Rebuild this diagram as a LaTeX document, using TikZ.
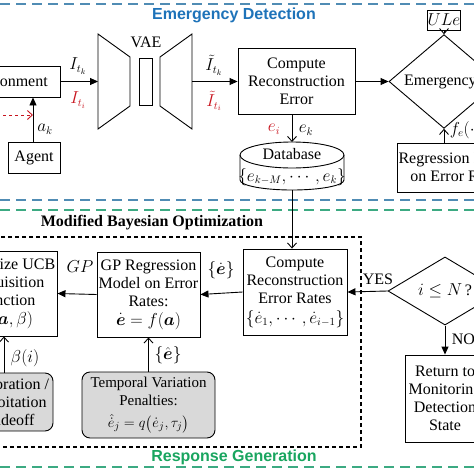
\documentclass[tikz,border=0pt]{standalone}
\usepackage{amsmath}
\usepackage{fontspec}
\setmainfont{Liberation Serif}
\newfontfamily\headfont{Liberation Sans}
\usetikzlibrary{shapes.geometric,arrows.meta}
\definecolor{hblue}{RGB}{30,115,185}
\definecolor{lblue}{RGB}{80,140,180}
\definecolor{hgreen}{RGB}{25,165,95}
\definecolor{lgreen}{RGB}{60,170,130}
\definecolor{dred}{RGB}{200,20,30}
\definecolor{boxgray}{RGB}{217,217,217}
\begin{document}
\begin{tikzpicture}[x=1pt,y=-1pt,
  font=\fontsize{16}{18}\selectfont,
  line width=0.9pt,
  box/.style={draw, align=center, inner sep=0pt},
  gbox/.style={draw, fill=boxgray, rounded corners=8pt, align=center, inner sep=0pt},
  dia/.style={draw, diamond, inner sep=0pt, align=center},
  farrow/.style={-{Triangle[length=8pt,width=7pt]}},
  varrow/.style={-{Straight Barb[length=5pt,width=9pt]}},
  bluedash/.style={draw=lblue, line width=1.2pt, dash pattern=on 10pt off 6pt},
  greendash/.style={draw=lgreen, line width=1.2pt, dash pattern=on 10pt off 6pt},
  head/.style={font=\headfont\bfseries\fontsize{16}{18}\selectfont}
]
\useasboundingbox (0,0) rectangle (474,474);
\clip (0,0) rectangle (474,474);

% section separators
\draw[bluedash] (0,4) -- (474,4);
\draw[bluedash] (0,200) -- (474,200);
\draw[greendash] (0,210) -- (474,210);
\draw[greendash] (0,467) -- (474,467);
\node[head, text=hblue] (t1) at (234,15) {Emergency Detection};
\node[head, text=hgreen] (t2) at (234,457) {Response Generation};

% BO frame
\draw[line width=1.1pt, dash pattern=on 4pt off 3pt] (-60,237) rectangle (361,447);
\node[font=\bfseries\fontsize{16}{18}\selectfont] (bo) at (152,223) {Modified Bayesian Optimization};

% Emergency detection part
\node[box, minimum width=108pt, minimum height=31pt] (env) at (6,81.5) {Environment};
\node[box, minimum width=52pt, minimum height=31pt] (agent) at (34,157.5) {Agent};
\coordinate (aline) at (33,115);
\draw[farrow] (agent.north -| aline) -- (env.south -| aline);
\node (ak) at (45,129) {$a_k$};
\draw[dred, dashed, varrow] (-15,115) -- (aline);

% VAE
\coordinate (encin) at (98,81.5);
\coordinate (decout) at (192,81.5);
\draw (98,34) -- (130,57) -- (130,106) -- (98,129) -- cycle;
\draw (139,58) rectangle (152,105);
\draw (192,34) -- (160,57) -- (160,106) -- (192,129) -- cycle;
\node (vae) at (146,42) {VAE};

\draw[farrow] (env.east) -- (encin);
\node (itk) at (78,66) {$I_{t_k}$};
\node[text=dred] (iti) at (78,100) {$I_{t_i}$};

\node[box, minimum width=117pt, minimum height=66pt] (cre) at (296.5,81.5) {Compute\\Reconstruction\\Error};
\draw[farrow] (decout) -- (cre.west);
\node (titk) at (214,65) {$\tilde I_{t_k}$};
\node[text=dred] (titi) at (214,101) {$\tilde I_{t_i}$};

\node[dia, minimum width=110pt, minimum height=68pt] (emer) at (444,81.5) {Emergency?};
\node[box, minimum width=32pt, minimum height=20pt] (ule) at (444,20) {$ULe$};
\draw[varrow] (ule.south) -- (emer.north);
\draw[farrow] (cre.east) -- (emer.west);

\node[box, minimum width=120pt, minimum height=49pt] (reg) at (457,167.5) {Regression Model\\on Error Rates};
\draw[varrow] (reg.north -| emer.south) -- (emer.south);
\node[anchor=west] (fe) at (446,130) {$f_e(\cdot)$};

% database
\node (db) at (292,166) {};
\coordinate (dbtop) at (292,142);
\coordinate (dbbot) at (292,190);
\draw (240,155) -- (240,180) arc[start angle=180, end angle=360, x radius=52pt, y radius=10pt] -- (344,155);
\draw (292,155) ellipse [x radius=52pt, y radius=13pt];
\node (dbl) at (292,154) {Database};
\node (dbs) at (292,177) {$\{e_{k-M},\cdots,e_k\}$};
\draw[varrow] (cre.south -| dbtop) -- (dbtop);
\node[text=dred] (ei) at (274,129) {$e_i$};
\node (ek) at (306,130) {$e_k$};

% response part
\node[box, minimum width=104pt, minimum height=86pt] (rates) at (295,292) {Compute\\Reconstruction\\Error Rates\\[2pt]$\{\dot e_1,\cdots,\dot e_{i-1}\}$};
\draw[varrow] (dbbot) -- (dbbot |- rates.north);

\node[dia, minimum width=114pt, minimum height=68pt] (dec) at (445,291) {$i \le N$\,?};
\draw[farrow] (dec.west) -- (rates.east);
\node (yes) at (378,279) {YES};
\node[box, minimum width=80pt, minimum height=87pt] (ret) at (445,398.5) {Return to\\Monitoring\\Detection\\State};
\draw[farrow] (dec.south) -- (ret.north);
\node[anchor=west] (no) at (448,339) {NO};

\node[box, minimum width=103pt, minimum height=85pt] (gp) at (148.5,294.5) {GP Regression\\Model on Error\\Rates:\\[1pt]$\dot{\boldsymbol e} = f(\boldsymbol a)$};
\draw[farrow] (rates.west) -- (gp.east);
\node (edot) at (221,270) {$\{\dot{\boldsymbol e}\}$};

\node[box, minimum width=100pt, minimum height=85pt] (ucb) at (7,293.5) {Optimize UCB\\Acquisition\\Function\\[1pt]$\alpha(\boldsymbol a,\beta)$};
\draw[farrow] (gp.west) -- (ucb.east);
\node (gpl) at (80,267) {$GP$};

\node[gbox, minimum width=92pt, minimum height=58pt] (expl) at (7,402) {Exploration /\\Exploitation\\Tradeoff};
\coordinate (bx) at (4,360);
\draw[varrow] (expl.north -| bx) -- (ucb.south -| bx);
\node (beta) at (25,358) {$\beta(i)$};

\node[gbox, minimum width=133pt, minimum height=66pt, font=\fontsize{15}{18}\selectfont] (temp) at (148.5,405) {Temporal Variation\\Penalties:\\[4pt]$\hat{\dot e}_j = q\big(\dot e_j,\tau_j\big)$};
\draw[varrow] (temp.north) -- (gp.south);
\node (ehat) at (168,355) {$\{\hat{\boldsymbol e}\}$};
\end{tikzpicture}
\end{document}
